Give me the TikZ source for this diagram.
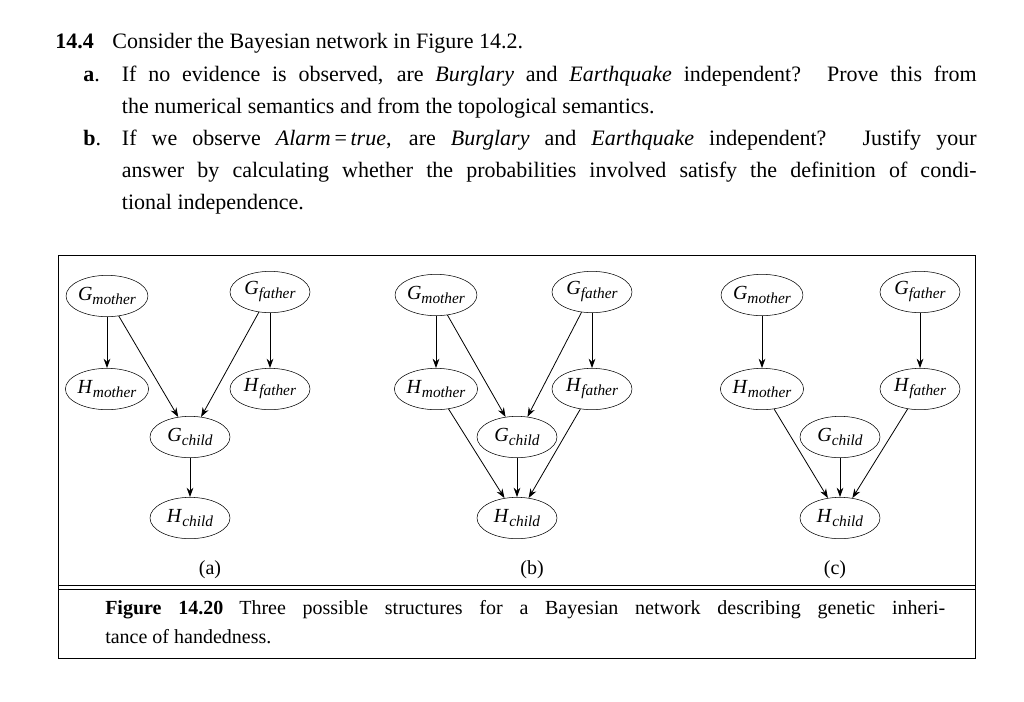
\documentclass[tikz,border=0pt]{standalone}
\usepackage{fontspec}
\setmainfont{Liberation Serif}
\usetikzlibrary{shapes.geometric,arrows.meta}
\begin{document}
\begin{tikzpicture}[x=0.75pt,y=-0.75pt,
  nd/.style={draw,ellipse,minimum width=60pt,minimum height=31pt,inner sep=0pt,font=\fontsize{15}{15}\selectfont},
  ar/.style={-{Stealth[length=7pt,width=5pt]},line width=0.6pt},
  lbl/.style={font=\fontsize{15}{15}\selectfont}]
\useasboundingbox (0,0) rectangle (1024,701);
\fill[white] (0,0) rectangle (1024,701);
\newcommand{\nm}[2]{\textit{#1}\raisebox{-3pt}{\fontsize{11.5}{11.5}\selectfont\textit{#2}}}
% question text
\node[anchor=base west,inner sep=0pt,font=\fontsize{16.5}{24}\selectfont] (q) at (55,48) {\textbf{14.4}\hspace{14pt}Consider the Bayesian network in Figure 14.2.};
\node[anchor=north west,inner sep=0pt,font=\fontsize{16.5}{24}\selectfont] (qa) at (83,66) {\begin{minipage}[t]{670pt}\setlength{\parindent}{0pt}\hangindent=29pt\hangafter=1
\makebox[29pt][l]{\textbf{a}.}If no evidence is observed, are \textit{Burglary} and \textit{Earthquake} independent? Prove this from\linebreak
the numerical semantics and from the topological semantics.\par
\hangindent=29pt\hangafter=1\makebox[29pt][l]{\textbf{b}.}If we observe \textit{Alarm}\,=\,\textit{true}, are \textit{Burglary} and \textit{Earthquake} independent? Justify your\linebreak
answer by calculating whether the probabilities involved satisfy the definition of condi-\linebreak
tional independence.\end{minipage}};
% frame
\draw[line width=0.6pt] (58,255) rectangle (975,658);
\draw[line width=0.6pt] (58,585) -- (975,585);
\draw[line width=0.6pt] (58,589) -- (975,589);
\node[anchor=north west,inner sep=0pt,font=\fontsize{15}{22}\selectfont] (cap) at (105,600) {\begin{minipage}[t]{630pt}\setlength{\parindent}{0pt}\textbf{Figure 14.20}\hspace{12pt}Three possible structures for a Bayesian network describing genetic inheri-\linebreak tance of handedness.\end{minipage}};
% (a)
\node[nd] (aGm) at (107,296) {\nm{G}{mother}};
\node[nd] (aGf) at (270,292) {\nm{G}{father}};
\node[nd] (aHm) at (107,389) {\nm{H}{mother}};
\node[nd] (aHf) at (270,389) {\nm{H}{father}};
\node[nd] (aGc) at (190,437) {\nm{G}{child}};
\node[nd] (aHc) at (190,518) {\nm{H}{child}};
\node[lbl] (la) at (210,570) {(a)};
\draw[ar] (aGm)--(aHm); \draw[ar] (aGf)--(aHf);
\draw[ar] (aGm)--(aGc); \draw[ar] (aGf)--(aGc); \draw[ar] (aGc)--(aHc);
% (b)
\node[nd] (bGm) at (436,295) {\nm{G}{mother}};
\node[nd] (bGf) at (592,292) {\nm{G}{father}};
\node[nd] (bHm) at (436,389) {\nm{H}{mother}};
\node[nd] (bHf) at (592,389) {\nm{H}{father}};
\node[nd] (bGc) at (517,437) {\nm{G}{child}};
\node[nd] (bHc) at (517,518) {\nm{H}{child}};
\node[lbl] (lb) at (532,570) {(b)};
\draw[ar] (bGm)--(bHm); \draw[ar] (bGf)--(bHf);
\draw[ar] (bGm)--(bGc); \draw[ar] (bGf)--(bGc); \draw[ar] (bGc)--(bHc);
\draw[ar] (bHm)--(bHc); \draw[ar] (bHf)--(bHc);
% (c)
\node[nd] (cGm) at (762,295) {\nm{G}{mother}};
\node[nd] (cGf) at (920,292) {\nm{G}{father}};
\node[nd] (cHm) at (762,389) {\nm{H}{mother}};
\node[nd] (cHf) at (920,389) {\nm{H}{father}};
\node[nd] (cGc) at (840,437) {\nm{G}{child}};
\node[nd] (cHc) at (840,518) {\nm{H}{child}};
\node[lbl] (lc) at (835,570) {(c)};
\draw[ar] (cGm)--(cHm); \draw[ar] (cGf)--(cHf);
\draw[ar] (cHm)--(cHc); \draw[ar] (cGc)--(cHc); \draw[ar] (cHf)--(cHc);
\end{tikzpicture}
\end{document}
